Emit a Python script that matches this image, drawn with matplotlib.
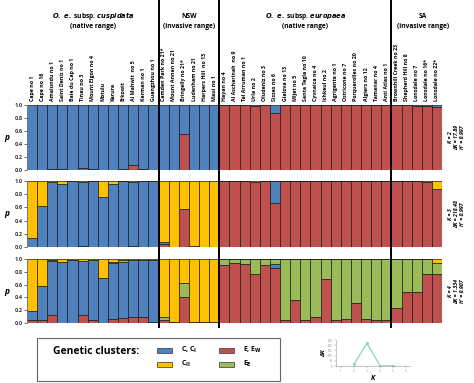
import numpy as np
import matplotlib
matplotlib.use('Agg')
import matplotlib.pyplot as plt
from matplotlib.patches import Rectangle
from matplotlib.lines import Line2D
import matplotlib.transforms as mtransforms

plt.rcParams['font.family'] = ['Open Sans', 'DejaVu Sans']
plt.rcParams['mathtext.fontset'] = 'dejavusans'

# Populations
cusp = ['Cape no 1', 'Cape no 16', 'Amalundu no 1', 'Saint Denis no 1', 'Baie du Cap no 1',
        'Tinau no 3', 'Mount Elgon no 4', 'Motulu', 'Karura', 'Erkowit', 'Al Mahwit  no 5',
        'Kerman no 1', 'Guangzhou no 1']
nsw = ['Camden Park no 21*', 'Mount Annan no 21', 'Bringelly no 21*', 'Ludenham no 21',
       'Harpers Hill  no 13', 'Maui no 1']
euro = ['Hayan no 4', 'Al Ascharinah  no 9', 'Tel Arruman no 1', 'Urla no 2', 'Oludeniz no 3',
        'Sisses no 6', 'Gialova no 13', 'Mljet no 5', 'Santa Tegla no 10', 'Cyvnaica no 4',
        'Ichkeul no 2', 'Agrigente no 1', 'Ostricone no 7', 'Porquerolles no 20', 'Algiers no 12',
        'Tamanar no 4', 'Anti Atlas no 1']
sa = ['Brownhill Creek no 23', 'Shepherd Hill no 8', 'Lonsdale no 7', 'Lonsdale no 16*',
      'Lonsdale no 22*']
labels = cusp + nsw + euro + sa

# K = 2 : red (E) bottom, blue (C) top
k2_red = [0, 0, 0.02, 0.01, 0, 0.03, 0.015, 0, 0, 0.01, 0.07, 0.01, 0,
          0, 0, 0.55, 0, 0, 0,
          1, 1, 1, 0.99, 1, 0.88, 1, 1, 1, 1, 1, 1, 1, 1, 1, 1, 1,
          1, 1, 0.99, 0.99, 0.97]

# K = 3 : red, blue, yellow (rest)
k3_red = [0, 0, 0, 0, 0, 0.01, 0, 0, 0, 0, 0.01, 0, 0,
          0.04, 0, 0.57, 0.01, 0, 0,
          1, 1, 1, 0.98, 1, 0.67, 1, 1, 1, 1, 1, 1, 1, 1, 1, 1, 1,
          1, 1, 1, 0.98, 0.88]
k3_blue = [0.14, 0.62, 0.99, 0.96, 1.0, 0.98, 1.0, 0.76, 0.96, 1.0, 0.98, 1.0, 1.0,
           0.035, 0, 0.01, 0, 0, 0,
           0, 0, 0, 0, 0, 0.33, 0, 0, 0, 0, 0, 0, 0, 0, 0, 0, 0,
           0, 0, 0, 0, 0]

# K = 4 : red, blue, green, yellow (rest)
k4_red = [0.05, 0.04, 0.13, 0, 0, 0.13, 0.05, 0, 0.07, 0.08, 0.09, 0.10, 0.02,
          0.05, 0.01, 0.40, 0.01, 0.01, 0.01,
          0.91, 0.93, 0.92, 0.76, 0.91, 0.855, 0.04, 0.36, 0.04, 0.10, 0.68, 0.05, 0.06,
          0.31, 0.07, 0.05, 0.04,
          0.23, 0.48, 0.49, 0.76, 0.76]
k4_blue = [0.13, 0.54, 0.84, 0.95, 0.98, 0.84, 0.93, 0.70, 0.87, 0.88, 0.89, 0.88, 0.97,
           0, 0, 0, 0, 0, 0,
           0, 0, 0, 0, 0, 0.065, 0, 0, 0, 0, 0, 0, 0, 0, 0, 0, 0,
           0, 0, 0, 0, 0]
k4_green = [0, 0, 0.01, 0, 0, 0, 0, 0, 0.02, 0.02, 0, 0, 0,
            0.05, 0, 0.22, 0, 0, 0,
            0.09, 0.07, 0.08, 0.24, 0.09, 0.08, 0.96, 0.64, 0.96, 0.90, 0.32, 0.95, 0.94,
            0.69, 0.93, 0.95, 0.96,
            0.77, 0.52, 0.51, 0.24, 0.18]

k_stats = ["K = 2\nΔK = 17.89\nH' = 0.997",
           "K = 3\nΔK = 218.48\nH' = 0.997",
           "K = 4\nΔK = 1.334\nH' = 0.907"]

# Delta K inset
dk_k = [2, 3, 4, 5]
dk_val = [17.89, 218.48, 1.334, 2.0]

c_blue = '#4F81BD'
c_red = '#C0504D'
c_yellow = '#FFC000'
c_green = '#9BBB59'

W, H = 474, 383
fig = plt.figure(figsize=(W / 100, H / 100), dpi=100)

def fx(px):
    return px / W

def fy(py):
    return 1 - py / H

x = np.arange(len(labels))
panels = [(105, 170), (181, 247), (259, 323)]
axes = []
for top, bot in panels:
    ax = fig.add_axes([fx(27), fy(bot), fx(442) - fx(27), (bot - top) / H])
    axes.append(ax)

def stack(ax, parts):
    bottom = np.zeros(len(labels))
    for vals, col in parts:
        vals = np.asarray(vals, float)
        ax.bar(x, vals, bottom=bottom, width=1.0, color=col, edgecolor='#1a1a1a',
               linewidth=0.5)
        bottom = bottom + vals

r2 = np.array(k2_red)
stack(axes[0], [(r2, c_red), (1 - r2, c_blue)])
r3, b3 = np.array(k3_red), np.array(k3_blue)
stack(axes[1], [(r3, c_red), (b3, c_blue), (np.clip(1 - r3 - b3, 0, 1), c_yellow)])
r4, b4, g4 = np.array(k4_red), np.array(k4_blue), np.array(k4_green)
stack(axes[2], [(r4, c_red), (b4, c_blue), (g4, c_green),
                (np.clip(1 - r4 - b4 - g4, 0, 1), c_yellow)])

for ax, txt in zip(axes, k_stats):
    ax.set_xlim(-0.5, len(labels) - 0.5)
    ax.set_ylim(0, 1.0)
    ax.set_yticks([0, 0.2, 0.4, 0.6, 0.8, 1.0])
    ax.set_yticklabels(['0.0', '0.2', '0.4', '0.6', '0.8', '1.0'], fontsize=4, fontweight='bold')
    ax.tick_params(axis='y', length=2, width=0.5, pad=1, colors='#333333')
    ax.set_xticks([])
    for s in ['top', 'right', 'bottom']:
        ax.spines[s].set_visible(False)
    ax.spines['left'].set_linewidth(0.5)
    ax.spines['left'].set_color('#888888')
    ax.set_ylabel('p', fontsize=6, fontweight='bold', style='italic', rotation=0,
                  labelpad=6, va='center')
    ax.text(1.035, 0.5, txt, transform=ax.transAxes, rotation=90, ha='center', va='center',
            fontsize=3.8, style='italic', fontweight='bold', linespacing=1.2)

# population names on top
ax0 = axes[0]
tr = mtransforms.blended_transform_factory(ax0.transData, fig.transFigure)
for i, name in enumerate(labels):
    fig.text(0, 0, name, transform=tr, rotation=90, ha='center', va='bottom',
             fontsize=3.8, fontweight='bold').set_position((i, fy(101)))

# group dividers
for xd in [12.5, 18.5, 35.5]:
    fig.add_artist(Line2D([xd, xd], [fy(0), fy(327)], transform=tr, color='black', lw=1.4))

# group titles
groups = [(6, r'$\mathbfit{O.\ e.}$ subsp. $\mathbfit{cuspidata}$', '(native range)'),
          (15.5, 'NSW', '(invasive range)'),
          (27, r'$\mathbfit{O.\ e.}$ subsp. $\mathbfit{europaea}$', '(native range)'),
          (38.6, 'SA', '(invasive range)')]
for gx, t1, t2 in groups:
    fig.text(gx, fy(16), t1, transform=tr, ha='center', va='center', fontsize=4.8,
             fontweight='bold')
    fig.text(gx, fy(26), t2, transform=tr, ha='center', va='center', fontsize=4.8,
             fontweight='bold')

# legend box
fig.add_artist(Rectangle((fx(37), fy(381)), fx(280) - fx(37), (381 - 338) / H,
                         transform=fig.transFigure, fill=False, edgecolor='#666666', lw=0.8))
fig.text(fx(53), fy(352), 'Genetic clusters:', fontsize=7.5, fontweight='bold',
         ha='left', va='center')
leg = [(157, 350, c_blue, r'C, C$_\mathbf{I}$'), (219, 350, c_red, r'E, E$_\mathbf{W}$'),
       (157, 364, c_yellow, r'C$_\mathbf{II}$'), (219, 364, c_green, r'E$_\mathbf{E}$')]
for px, py, col, lab in leg:
    fig.add_artist(Rectangle((fx(px), fy(py + 2.5)), 15 / W, 5 / H, transform=fig.transFigure,
                             facecolor=col, edgecolor='#333333', lw=0.5))
    fig.text(fx(px + 24), fy(py), lab, fontsize=5, fontweight='bold', ha='left', va='center')

# delta K inset
axi = fig.add_axes([fx(336), fy(366), fx(410) - fx(336), 26 / H])
axi.plot(dk_k, dk_val, color='#7FD1B5', lw=0.8, marker='o', ms=1)
axi.set_xlim(0.62, 6.3)
axi.set_ylim(0, 250)
axi.set_xticks([1, 2, 3, 4, 5, 6])
axi.set_yticks([0, 50, 100, 150, 200, 250])
axi.tick_params(labelsize=2, length=1.5, width=0.3, pad=1, colors='#888888')
for s in ['top', 'right']:
    axi.spines[s].set_visible(False)
for s in ['left', 'bottom']:
    axi.spines[s].set_linewidth(0.4)
    axi.spines[s].set_color('#999999')
axi.set_xlabel('K', fontsize=5, style='italic', fontweight='bold', labelpad=1)
axi.set_ylabel('ΔK', fontsize=4.5, style='italic', fontweight='bold', labelpad=1)

fig.savefig('out.png', dpi=100)
